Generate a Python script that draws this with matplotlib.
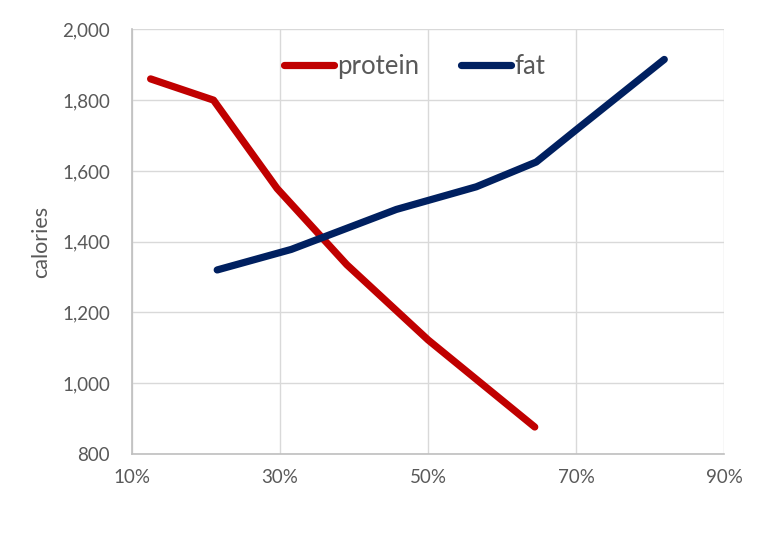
import matplotlib
matplotlib.use("Agg")
import matplotlib.pyplot as plt
from matplotlib.ticker import FuncFormatter

# values (x = share of calories, y = calories)
protein_x = [12.5, 21.0, 29.6, 39.0, 50.0, 64.4]
protein_y = [1860, 1800, 1550, 1335, 1122, 876]

fat_x = [21.5, 31.5, 45.7, 56.5, 64.6, 70.0, 81.9]
fat_y = [1320, 1378, 1491, 1555, 1625, 1716, 1915]

x_ticks = [10, 30, 50, 70, 90]
y_ticks = [800, 1000, 1200, 1400, 1600, 1800, 2000]

plt.rcParams['font.family'] = ['Lato', 'DejaVu Sans']
gray = '#595959'

fig = plt.figure(figsize=(7.68, 5.34), dpi=100)
ax = fig.add_axes([0.172, 0.150, 0.771, 0.795])

ax.plot(protein_x, protein_y, color='#c00000', lw=5.2, solid_capstyle='round',
        solid_joinstyle='round', label='protein')
ax.plot(fat_x, fat_y, color='#002060', lw=5.2, solid_capstyle='round',
        solid_joinstyle='round', label='fat')

ax.set_xlim(10, 90)
ax.set_ylim(800, 2000)
ax.set_xticks(x_ticks)
ax.set_yticks(y_ticks)
ax.xaxis.set_major_formatter(FuncFormatter(lambda v, p: f'{v:.0f}%'))
ax.yaxis.set_major_formatter(FuncFormatter(lambda v, p: f'{v:,.0f}'))
ax.tick_params(length=0, labelsize=13.5, labelcolor=gray)
ax.tick_params(axis='x', pad=11)
ax.tick_params(axis='y', pad=16)

ax.grid(True, color='#d9d9d9', lw=1)
ax.set_axisbelow(True)
for s in ['top', 'right']:
    ax.spines[s].set_visible(False)
for s in ['left', 'bottom']:
    ax.spines[s].set_color('#bfbfbf')
    ax.spines[s].set_linewidth(1.2)

ax.set_ylabel('calories', fontsize=15.5, color=gray, labelpad=8)

leg = ax.legend(loc='center', bbox_to_anchor=(0.477, 0.912), ncol=2, frameon=False,
                fontsize=18.5, handlelength=1.95, handletextpad=0.12, columnspacing=1.6)
for t in leg.get_texts():
    t.set_color(gray)

fig.savefig('out.png', dpi=100)
